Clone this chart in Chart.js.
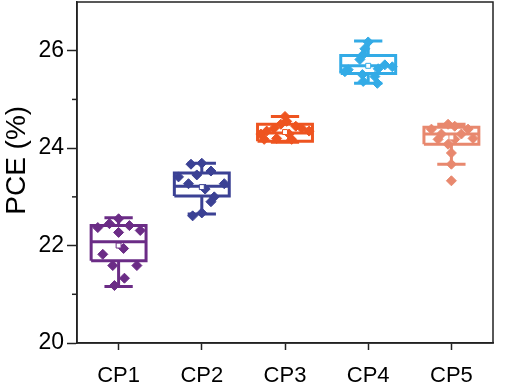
<!DOCTYPE html>
<html>
<head>
<meta charset="utf-8">
<script src="https://cdn.jsdelivr.net/npm/chart.js@4.4.0/dist/chart.umd.min.js"></script>
<style>
  html, body { margin: 0; padding: 0; background: #fff; }
  #wrap { width: 505px; height: 389px; }
</style>
</head>
<body>
<div id="wrap"><canvas id="pceChart"></canvas></div>
<script>
// groups and colours
const groups = ['CP1', 'CP2', 'CP3', 'CP4', 'CP5'];
const colors = ['#6b2c86', '#3b4194', '#ee5420', '#33abe6', '#e8886e'];

// box statistics (PCE %)
const whiskerLow = [21.16, 22.65, 24.12, 25.33, 23.67];
const q1 = [21.69, 23.02, 24.14, 25.53, 24.08];
const median = [22.08, 23.22, 24.31, 25.69, 24.29];
const q3 = [22.41, 23.49, 24.49, 25.90, 24.43];
const whiskerHigh = [22.57, 23.69, 24.65, 26.20, 24.49];
const means = [22.0, 23.2, 24.33, 25.69, 24.22];

// individual devices: value and horizontal jitter (category units)
const cp1Vals = [22.37, 22.55, 22.45, 22.41, 22.31, 22.27, 21.94, 21.82, 21.59, 21.59, 21.33, 21.18];
const cp1Jit = [-0.25, 0, -0.11, 0.13, 0.26, 0, 0.06, -0.19, -0.07, 0.22, 0.07, -0.05];
const cp2Vals = [23.67, 23.69, 23.53, 23.45, 23.41, 23.27, 23.27, 23.16, 23.0, 22.9, 22.67, 22.61];
const cp2Jit = [-0.13, 0, 0.11, -0.06, -0.28, -0.16, 0.27, 0.04, 0.15, 0.11, 0, -0.11];
const cp3Vals = [24.65, 24.55, 24.49, 24.41, 24.45, 24.41, 24.35, 24.29, 24.29, 24.35, 24.18, 24.2, 24.18];
const cp3Jit = [0, 0.02, -0.05, -0.13, 0.13, 0.2, -0.22, -0.29, 0.05, 0.29, -0.25, -0.1, 0.08];
const cp4Vals = [26.18, 26.04, 25.92, 25.82, 25.71, 25.63, 25.61, 25.57, 25.67, 25.51, 25.47, 25.37, 25.33];
const cp4Jit = [0, -0.04, -0.06, -0.1, 0.2, 0.12, -0.24, -0.28, 0.29, -0.07, 0.08, -0.06, 0.11];
const cp5Vals = [24.49, 24.45, 24.39, 24.39, 24.29, 24.29, 24.18, 24.18, 24.2, 24.08, 23.9, 23.67, 23.33];
const cp5Jit = [-0.04, 0.04, -0.24, 0.2, -0.12, 0.12, -0.16, 0.04, 0.26, -0.04, 0, 0, 0];

const yTicks = [20, 22, 24, 26];
const yMinor = [21, 23, 25];
const yTitle = 'PCE (%)';

const allVals = [cp1Vals, cp2Vals, cp3Vals, cp4Vals, cp5Vals];
const allJit = [cp1Jit, cp2Jit, cp3Jit, cp4Jit, cp5Jit];

const boxHalf = 0.33;
const capHalf = 0.17;

function boxOutline(i) {
  const L = i - boxHalf, R = i + boxHalf;
  const gap = { x: i, y: null };
  return [
    { x: L, y: q1[i] }, { x: R, y: q1[i] }, { x: R, y: q3[i] }, { x: L, y: q3[i] }, { x: L, y: q1[i] }, gap,
    { x: L, y: median[i] }, { x: R, y: median[i] }, gap,
    { x: i, y: q3[i] }, { x: i, y: whiskerHigh[i] }, gap,
    { x: i - capHalf, y: whiskerHigh[i] }, { x: i + capHalf, y: whiskerHigh[i] }, gap,
    { x: i, y: q1[i] }, { x: i, y: whiskerLow[i] }, gap,
    { x: i - capHalf, y: whiskerLow[i] }, { x: i + capHalf, y: whiskerLow[i] }
  ];
}

const datasets = [];
groups.forEach((g, i) => {
  datasets.push({
    type: 'line',
    label: g + ' box',
    data: boxOutline(i),
    borderColor: colors[i],
    borderWidth: 3,
    borderCapStyle: 'butt',
    borderJoinStyle: 'miter',
    pointRadius: 0,
    spanGaps: false,
    tension: 0,
    order: 3
  });
  datasets.push({
    type: 'scatter',
    label: g,
    data: allVals[i].map((v, k) => ({ x: i + allJit[i][k], y: v })),
    pointStyle: 'rectRot',
    pointRadius: 5,
    backgroundColor: colors[i],
    borderColor: colors[i],
    borderWidth: 1,
    order: 2
  });
  datasets.push({
    type: 'scatter',
    label: g + ' mean',
    data: [{ x: i, y: means[i] }],
    pointStyle: 'rect',
    pointRadius: 3.5,
    backgroundColor: '#fff',
    borderColor: colors[i],
    borderWidth: 1,
    order: 1
  });
});

const fontFamily = "'Liberation Sans', Arial, sans-serif";

// full frame, minor y ticks and the rotated axis title
const framePlugin = {
  id: 'frame',
  afterDraw(chart) {
    const { ctx, chartArea: a, scales: { y } } = chart;
    ctx.save();
    ctx.strokeStyle = '#222';
    ctx.lineWidth = 1.5;
    ctx.strokeRect(a.left, a.top, a.right - a.left, a.bottom - a.top);
    yMinor.forEach(v => {
      const py = y.getPixelForValue(v);
      ctx.beginPath();
      ctx.moveTo(a.left - 5, py);
      ctx.lineTo(a.left, py);
      ctx.stroke();
    });
    ctx.translate(17, y.getPixelForValue(23.75));
    ctx.rotate(-Math.PI / 2);
    ctx.font = '28px ' + fontFamily;
    ctx.fillStyle = '#000';
    ctx.textAlign = 'center';
    ctx.textBaseline = 'middle';
    ctx.fillText(yTitle, 0, 0);
    ctx.restore();
  }
};

new Chart(document.getElementById('pceChart'), {
  type: 'scatter',
  data: { datasets },
  plugins: [framePlugin],
  options: {
    responsive: true,
    maintainAspectRatio: false,
    animation: false,
    layout: { autoPadding: false, padding: { left: 0, top: 2, right: 12, bottom: 0 } },
    plugins: { legend: { display: false }, tooltip: { enabled: false } },
    scales: {
      x: {
        type: 'linear',
        min: -0.5,
        max: 4.5,
        afterBuildTicks: s => { s.ticks = groups.map((_, i) => ({ value: i })); },
        afterFit: s => { s.height = 46; s.paddingLeft = 0; s.paddingRight = 0; },
        ticks: {
          callback: v => groups[v],
          font: { family: fontFamily, size: 22 },
          color: '#000',
          padding: 13,
          maxRotation: 0
        },
        grid: { drawOnChartArea: false, tickLength: 7, tickWidth: 1.5, tickColor: '#222' },
        border: { color: '#222', width: 1.5 }
      },
      y: {
        min: 20,
        max: 27,
        afterBuildTicks: s => { s.ticks = yTicks.map(v => ({ value: v })); },
        afterFit: s => { s.width = 77; s.paddingTop = 0; s.paddingBottom = 0; },
        ticks: {
          font: { family: fontFamily, size: 23 },
          color: '#000',
          padding: 3
        },
        grid: { drawOnChartArea: false, tickLength: 10, tickWidth: 1.5, tickColor: '#222' },
        border: { color: '#222', width: 1.5 }
      }
    }
  }
});
</script>
</body>
</html>
